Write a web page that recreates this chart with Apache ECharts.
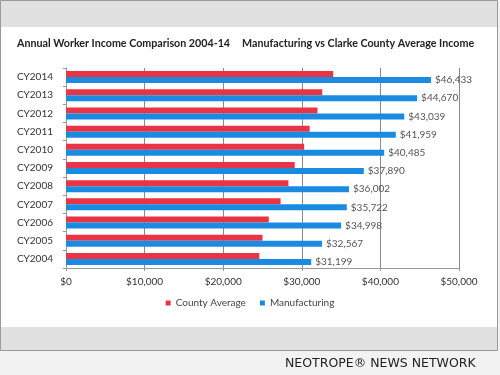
<!DOCTYPE html>
<html>
<head>
<meta charset="utf-8">
<script src="https://cdn.jsdelivr.net/npm/echarts@6/dist/echarts.min.js"></script>
<style>
  html, body { margin: 0; padding: 0; background: #f2f2f2; }
  #chart { width: 500px; height: 375px; }
</style>
</head>
<body>
<div id="chart"></div>
<script>
// 数据
const years = ['CY2004', 'CY2005', 'CY2006', 'CY2007', 'CY2008', 'CY2009', 'CY2010', 'CY2011', 'CY2012', 'CY2013', 'CY2014'];
const countyAverage = [24600, 25000, 25800, 27300, 28300, 29100, 30300, 31000, 32000, 32600, 34000];
const manufacturing = [31199, 32567, 34998, 35722, 36002, 37890, 40485, 41959, 43039, 44670, 46433];
const xTicks = [0, 10000, 20000, 30000, 40000, 50000];

const red = '#e93445';
const blue = '#1b8be2';
const font = 'Lato, "Open Sans", sans-serif';

const chart = echarts.init(document.getElementById('chart'));

const money = v => '$' + v.toLocaleString('en-US');

chart.setOption({
    backgroundColor: '#f2f2f2',
    animation: false,
    graphic: [
        // 外框和上下灰条
        { type: 'rect', shape: { x: 0.5, y: 0.5, width: 497, height: 350 }, style: { fill: '#e1e1e1', stroke: '#9a9a9a', lineWidth: 1 }, z: -10 },
        { type: 'rect', shape: { x: 1, y: 27, width: 496, height: 300 }, style: { fill: '#ffffff' }, z: -9 },
        { type: 'text', left: 17, top: 38, style: { text: 'Annual Worker Income Comparison 2004-14', font: 'bold 10.7px ' + font, fill: '#222' } },
        { type: 'text', left: 242, top: 38, style: { text: 'Manufacturing vs Clarke County Average Income', font: 'bold 10.7px ' + font, fill: '#222' } },
        { type: 'text', left: 285, top: 357, style: { text: 'NEOTROPE® NEWS NETWORK', font: '12.5px "DejaVu Sans", sans-serif', fill: '#222' } }
    ],
    legend: {
        data: ['County Average', 'Manufacturing'],
        bottom: 62,
        left: 'center',
        itemWidth: 5,
        itemHeight: 5,
        itemGap: 14,
        icon: 'rect',
        textStyle: { fontFamily: font, fontSize: 10, color: '#444' }
    },
    grid: { left: 66, top: 68, width: 393, height: 200 },
    xAxis: {
        type: 'value',
        min: 0,
        max: 50000,
        interval: 10000,
        axisLine: { show: true, lineStyle: { color: '#999' } },
        axisTick: { show: true, length: 3, lineStyle: { color: '#999' } },
        splitLine: { lineStyle: { color: '#8a8a8a', width: 1 } },
        axisLabel: {
            margin: 9,
            fontFamily: font,
            fontSize: 10,
            color: '#333',
            formatter: v => xTicks.includes(v) ? money(v) : ''
        }
    },
    yAxis: {
        type: 'category',
        data: years,
        axisLine: { show: true, lineStyle: { color: '#999' } },
        axisTick: { show: true, length: 3, lineStyle: { color: '#999' } },
        axisLabel: { margin: 13, fontFamily: font, fontSize: 10, color: '#333' }
    },
    series: [
        {
            name: 'County Average',
            type: 'bar',
            data: countyAverage,
            barWidth: 6,
            barGap: '0%',
            itemStyle: { color: red }
        },
        {
            name: 'Manufacturing',
            type: 'bar',
            data: manufacturing,
            barWidth: 6,
            barGap: '0%',
            itemStyle: { color: blue },
            label: {
                show: true,
                position: 'right',
                distance: 4,
                fontFamily: font,
                fontSize: 10,
                color: '#555',
                formatter: p => money(p.value)
            }
        }
    ]
});
</script>
</body>
</html>
